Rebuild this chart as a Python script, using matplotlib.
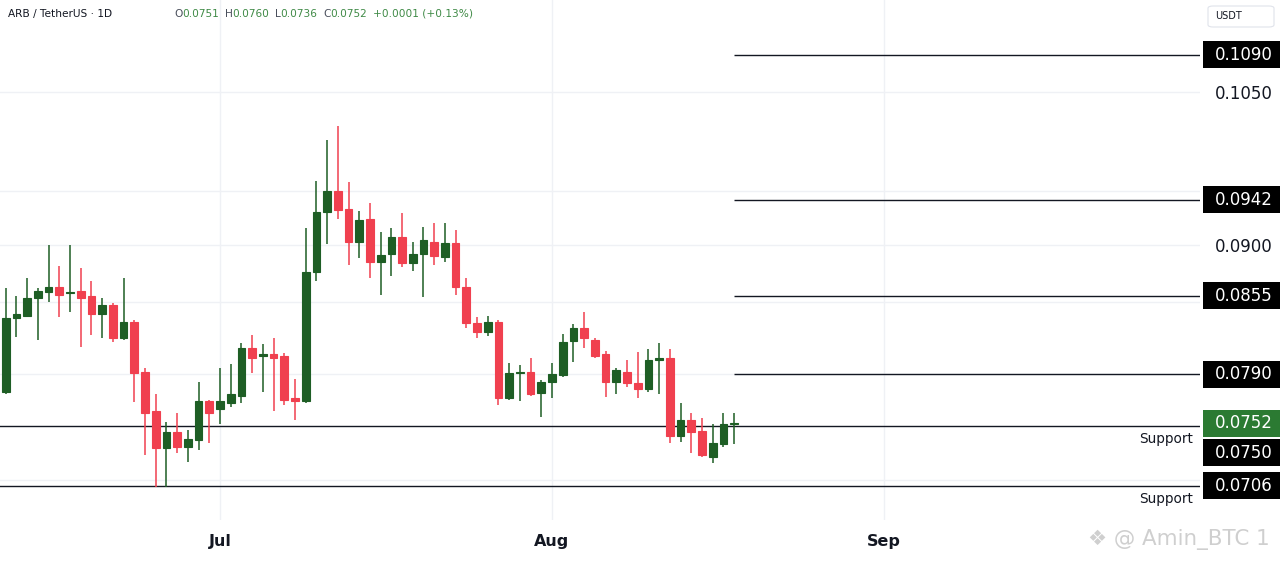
import numpy as np
import pandas as pd
import matplotlib
matplotlib.use('Agg')
import matplotlib.pyplot as plt
import matplotlib.dates as mdates
import matplotlib.transforms as mtransforms
from matplotlib.patches import Rectangle, FancyBboxPatch

# daily candles, Jun 11 -> Aug 18
dates = pd.date_range('2025-06-11', '2025-08-18', freq='D')
opens = [0.0776, 0.0836, 0.0838, 0.0853, 0.0858, 0.0863, 0.0857, 0.0859, 0.0855, 0.0839,
         0.0847, 0.0819, 0.0833, 0.0792, 0.0761, 0.0733, 0.0745, 0.0734, 0.0739, 0.0769,
         0.0763, 0.0767, 0.0773, 0.0811, 0.0805, 0.0806, 0.0805, 0.0771, 0.0769, 0.0876,
         0.0930, 0.0950, 0.0933, 0.0903, 0.0924, 0.0885, 0.0892, 0.0907, 0.0884, 0.0892,
         0.0903, 0.0889, 0.0902, 0.0863, 0.0832, 0.0824, 0.0833, 0.0771, 0.0791, 0.0792,
         0.0775, 0.0784, 0.0789, 0.0817, 0.0828, 0.0818, 0.0806, 0.0784, 0.0792, 0.0783,
         0.0778, 0.0801, 0.0803, 0.0742, 0.0754, 0.0746, 0.0727, 0.0736, 0.0751]
highs = [0.0862, 0.0855, 0.0870, 0.0862, 0.0900, 0.0881, 0.0900, 0.0879, 0.0868, 0.0853,
         0.0849, 0.0870, 0.0834, 0.0795, 0.0774, 0.0753, 0.0760, 0.0747, 0.0784, 0.0770,
         0.0795, 0.0798, 0.0815, 0.0822, 0.0814, 0.0819, 0.0807, 0.0786, 0.0915, 0.0960,
         0.1000, 0.1015, 0.0959, 0.0931, 0.0939, 0.0912, 0.0915, 0.0929, 0.0903, 0.0916,
         0.0920, 0.0920, 0.0914, 0.0870, 0.0837, 0.0838, 0.0834, 0.0799, 0.0797, 0.0803,
         0.0785, 0.0799, 0.0823, 0.0831, 0.0841, 0.0819, 0.0809, 0.0795, 0.0801, 0.0808,
         0.0810, 0.0815, 0.0810, 0.0767, 0.0760, 0.0756, 0.0751, 0.0760, 0.0760]
lows = [0.0774, 0.0820, 0.0837, 0.0818, 0.0850, 0.0837, 0.0841, 0.0812, 0.0822, 0.0819,
        0.0816, 0.0818, 0.0768, 0.0728, 0.0705, 0.0705, 0.0730, 0.0723, 0.0732, 0.0737,
        0.0751, 0.0764, 0.0767, 0.0791, 0.0776, 0.0761, 0.0766, 0.0754, 0.0767, 0.0868,
        0.0901, 0.0924, 0.0882, 0.0888, 0.0870, 0.0856, 0.0872, 0.0880, 0.0877, 0.0854,
        0.0882, 0.0885, 0.0856, 0.0828, 0.0819, 0.0821, 0.0766, 0.0770, 0.0769, 0.0773,
        0.0757, 0.0771, 0.0788, 0.0800, 0.0811, 0.0803, 0.0772, 0.0774, 0.0780, 0.0771,
        0.0776, 0.0774, 0.0737, 0.0738, 0.0730, 0.0727, 0.0722, 0.0734, 0.0736]
closes = [0.0836, 0.0839, 0.0853, 0.0859, 0.0863, 0.0856, 0.0858, 0.0853, 0.0839, 0.0847,
          0.0819, 0.0833, 0.0791, 0.0760, 0.0733, 0.0745, 0.0734, 0.0740, 0.0769, 0.0760,
          0.0769, 0.0774, 0.0811, 0.0803, 0.0806, 0.0803, 0.0770, 0.0769, 0.0876, 0.0930,
          0.0950, 0.0932, 0.0903, 0.0923, 0.0885, 0.0891, 0.0907, 0.0884, 0.0892, 0.0904,
          0.0890, 0.0902, 0.0863, 0.0832, 0.0824, 0.0833, 0.0771, 0.0791, 0.0792, 0.0774,
          0.0784, 0.0790, 0.0816, 0.0828, 0.0819, 0.0805, 0.0784, 0.0793, 0.0783, 0.0778,
          0.0801, 0.0803, 0.0742, 0.0754, 0.0745, 0.0728, 0.0737, 0.0751, 0.0752]

resistance = [0.1090, 0.0942, 0.0855, 0.0790]
supports = [0.0750, 0.0706]
grid_prices = [0.1050, 0.0950, 0.0900, 0.0850, 0.0790, 0.0710]
shown_prices = [0.1050, 0.0900]  # the others sit behind the level boxes
month_ticks = ['2025-07-01', '2025-08-01', '2025-09-01']
month_labels = ['Jul', 'Aug', 'Sep']

GREEN = '#1e5e25'
RED = '#f0404f'
DARK = '#131722'

fig = plt.figure(figsize=(12.8, 5.63), dpi=100)
ax = fig.add_axes([0, 43 / 563, 1200 / 1280, 520 / 563])
ax.set_yscale('log')
ybot, ytop = 0.0682, 0.1152
ax.set_ylim(ybot, ytop)
jul1 = mdates.date2num(pd.Timestamp('2025-07-01'))
xright = jul1 + 91.5
ax.set_xlim(jul1 - 20.54, xright)

x = mdates.date2num(dates)
o = np.array(opens); h = np.array(highs); l = np.array(lows); c = np.array(closes)
col = np.where(c >= o, GREEN, RED)
ax.vlines(x, l, h, colors=col, linewidth=1.1, zorder=3)
ax.bar(x, np.abs(c - o), bottom=np.minimum(o, c), width=0.72, color=col,
       edgecolor=col, linewidth=0.8, zorder=4)

# levels
for v in resistance:
    ax.hlines(v, x[-1], xright, color=DARK, linewidth=1, zorder=2)
for v in supports:
    ax.axhline(v, color=DARK, linewidth=1, zorder=2)

blend = mtransforms.blended_transform_factory(ax.transAxes, ax.transData)
for v in supports:
    ax.annotate('Support', xy=(1193 / 1200, v), xycoords=blend, xytext=(0, -13),
                textcoords='offset pixels', ha='right', va='center', fontsize=9.8,
                color=DARK, annotation_clip=False)

# axes styling
for s in ax.spines.values():
    s.set_visible(False)
ax.yaxis.tick_right()
ax.set_yticks(grid_prices)
ax.set_yticklabels([f'{v:.4f}' if v in shown_prices else '' for v in grid_prices])
ax.yaxis.set_minor_locator(matplotlib.ticker.NullLocator())
ax.tick_params(axis='y', length=0, pad=11, labelsize=12, labelcolor=DARK)
ax.set_xticks(mdates.date2num(pd.to_datetime(month_ticks)))
ax.set_xticklabels(month_labels, fontweight='bold')
ax.tick_params(axis='x', length=0, pad=10, labelsize=11.5, labelcolor=DARK)
ax.grid(True, color='#eff1f5', linewidth=1, zorder=0)

# price boxes on the right scale
px_per_ln = 520 / np.log(ytop / ybot)


def price_box(val, color, shift_px=0):
    yc = val * np.exp(-shift_px / px_per_ln)
    k = np.exp(13.5 / px_per_ln)
    ax.add_patch(Rectangle((1203 / 1200, yc / k), 80 / 1200, yc * k - yc / k,
                           transform=blend, facecolor=color, edgecolor='none',
                           clip_on=False, zorder=6))
    ax.text(1244 / 1200, yc, f'{val:.4f}', transform=blend, ha='center', va='center',
            color='white', fontsize=12, zorder=7, clip_on=False)


for v in resistance:
    price_box(v, 'black')
price_box(closes[-1], '#2b7a32')
price_box(supports[0], 'black', shift_px=27)
price_box(supports[1], 'black')

# header line
hy = 1 - 14 / 563
fig.text(8 / 1280, hy, 'ARB / TetherUS · 1D', fontsize=7.6, color=DARK, va='center')
val_col = '#3f8a46'
lab_col = '#4a4f5c'
chg = closes[-1] - opens[-1]
chain = fig.text(174 / 1280, hy, 'O', fontsize=7.6, color=lab_col, va='center')
items = [(f'{opens[-1]:.4f}', val_col, 0), ('H', lab_col, 4), (f'{highs[-1]:.4f}', val_col, 0),
         ('L', lab_col, 4), (f'{lows[-1]:.4f}', val_col, 0), ('C', lab_col, 4),
         (f'{closes[-1]:.4f}', val_col, 0),
         (f'{chg:+.4f} ({chg / opens[-1] * 100:+.2f}%)', val_col, 4)]
for txt, colr, gap in items:
    chain = ax.annotate(txt, xy=(1, 0.5), xycoords=chain, xytext=(gap, 0),
                        textcoords='offset points', va='center', ha='left',
                        fontsize=7.6, color=colr, annotation_clip=False)

# unit box
fig.patches.append(FancyBboxPatch((1208 / 1280, 1 - 27 / 563), 66 / 1280, 21 / 563,
                                  boxstyle='round,pad=0,rounding_size=0.004',
                                  transform=fig.transFigure, facecolor='white',
                                  edgecolor='#e0e3eb', linewidth=0.8))
fig.text(1215 / 1280, 1 - 16 / 563, 'USDT', fontsize=7, color=DARK, va='center')

# watermark
fig.text(1270 / 1280, 1 - 540 / 563, '❖ @ Amin_BTC 1', fontsize=15.4, color='#cfcfcf',
         ha='right', va='center')

fig.savefig('out.png', dpi=100)
